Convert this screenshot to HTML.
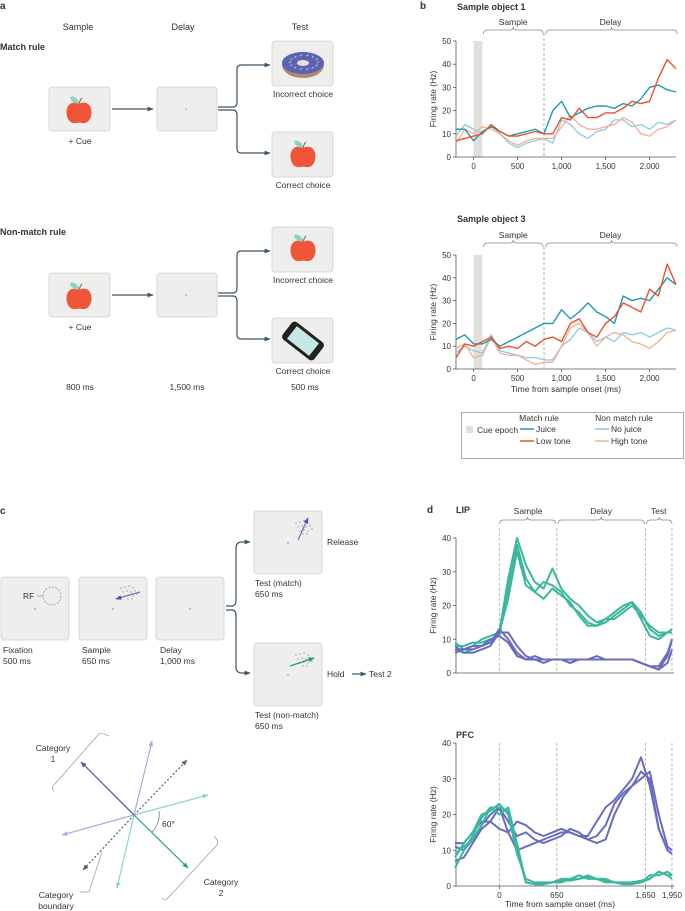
<!DOCTYPE html>
<html><head><meta charset="utf-8"><style>
html,body{margin:0;padding:0;background:#fff;}
svg{display:block;font-family:"Liberation Sans",sans-serif;}
text{fill:#333;}
</style></head><body>
<svg id="fig" width="685" height="911" viewBox="0 0 685 911" xmlns="http://www.w3.org/2000/svg">
<defs>
<marker id="ah" viewBox="0 0 10 10" refX="9" refY="5" markerWidth="5" markerHeight="5" orient="auto"><path d="M0,1 L10,5 L0,9 Z" fill="#3d5566"/></marker>
<marker id="ahB" viewBox="0 0 10 10" refX="9" refY="5" markerWidth="5" markerHeight="5" orient="auto"><path d="M0,1 L10,5 L0,9 Z" fill="#4a55a8"/></marker>
<marker id="ahT" viewBox="0 0 10 10" refX="9" refY="5" markerWidth="5" markerHeight="5" orient="auto"><path d="M0,1 L10,5 L0,9 Z" fill="#14a08a"/></marker>
<marker id="ahLP" viewBox="0 0 10 10" refX="9" refY="5" markerWidth="5" markerHeight="5" orient="auto"><path d="M0,1 L10,5 L0,9 Z" fill="#a9acdc"/></marker>
<marker id="ahLT" viewBox="0 0 10 10" refX="9" refY="5" markerWidth="5" markerHeight="5" orient="auto"><path d="M0,1 L10,5 L0,9 Z" fill="#8fd6c6"/></marker>
<marker id="ahG" viewBox="0 0 10 10" refX="9" refY="5" markerWidth="5" markerHeight="5" orient="auto"><path d="M0,1 L10,5 L0,9 Z" fill="#4d6272"/></marker>
</defs>

<g>
<text x="0" y="9" font-size="10" font-weight="bold" fill="#222">a</text>
<text x="78" y="30" font-size="9" text-anchor="middle">Sample</text>
<text x="183" y="30" font-size="9" text-anchor="middle">Delay</text>
<text x="300" y="30" font-size="9" text-anchor="middle">Test</text>
<text x="0" y="50" font-size="9" font-weight="bold" fill="#222">Match rule</text>
<text x="0" y="235" font-size="9" font-weight="bold" fill="#222">Non-match rule</text>
<g id="pa"></g>
<text x="80" y="390" font-size="8.5" text-anchor="middle">800 ms</text>
<text x="187" y="390" font-size="8.5" text-anchor="middle">1,500 ms</text>
<text x="305" y="390" font-size="8.5" text-anchor="middle">500 ms</text>
</g>

<g>
<text x="0" y="514" font-size="10" font-weight="bold" fill="#222">c</text>
<g id="pc"></g>
</g>

<text x="420" y="9" font-size="10" font-weight="bold" fill="#222">b</text>
<g id="charts"></g>
</svg>
<script>
const bTimes = [-200,-100,0,100,200,300,400,500,600,700,800,900,1000,1100,1200,1300,1400,1500,1600,1700,1800,1900,2000,2100,2200,2300];
const obj1Juice   = [12,12,7,11,13,11,9,10,11,12,10,20,24,17,19,21,22,22,21,23,22,25,30,31,29,28];
const obj1LowTone = [7,8,9,10,14,11,9,9,10,11,10,10,17,16,21,17,17,19,19,21,24,23,24,34,42,38];
const obj1NoJuice = [9,14,12,10,14,10,6,4,6,7,8,6,16,14,10,8,11,12,16,16,13,14,12,15,14,16];
const obj1HighTone= [6,12,10,13,12,10,7,5,7,8,8,8,13,18,14,12,12,13,14,17,15,10,9,12,13,16];
const obj3Juice   = [13,15,11,11,13,10,12,14,16,18,20,20,26,22,25,29,25,23,20,32,30,31,30,35,40,37];
const obj3LowTone = [5,11,10,12,14,9,10,9,12,10,13,14,12,20,22,16,14,20,23,29,27,25,35,32,46,37];
const obj3NoJuice = [7,10,8,7,15,8,7,6,5,5,4,4,10,13,18,16,12,14,12,16,15,16,14,16,18,17];
const obj3HighTone= [9,11,5,6,14,7,6,6,4,2,3,3,10,18,20,16,10,14,16,15,12,11,9,12,16,17];
const bXTicks = [0,500,1000,1500,2000];
const bXTickLabels = ["0","500","1,000","1,500","2,000"];
const bYTicks = [0,10,20,30,40,50];

const dTimes = [-500,-400,-300,-200,-100,0,100,200,300,400,500,600,700,800,900,1000,1100,1200,1300,1400,1500,1600,1700,1800,1900,1950];
const lipTeal1 = [9,7,8,10,11,12,28,40,32,27,25,31,25,22,20,17,15,16,18,20,21,18,13,11,12,13];
const lipTeal2 = [8,8,9,9,10,11,25,38,28,24,27,26,24,20,18,15,14,16,16,18,20,17,14,12,12,12];
const lipTeal3 = [7,6,7,8,9,12,22,36,26,24,22,25,23,21,17,14,14,15,17,19,21,16,11,10,12,12];
const lipPurple1 = [7,7,7,8,9,13,10,6,4,5,4,4,4,4,4,4,4,4,4,4,4,3,2,1,5,10];
const lipPurple2 = [6,7,8,8,10,11,9,5,4,4,4,4,4,3,4,4,5,4,4,4,4,3,2,1,3,7];
const lipPurple3 = [8,6,6,7,8,12,12,8,5,4,3,4,4,3,4,4,4,4,4,4,4,3,2,2,6,10];
const pfcTeal1 = [5,10,14,19,22,20,22,12,1,0.5,0.5,1,1.5,1.5,2,2.5,2,1.5,1,1,1,1.5,2,4,3,3];
const pfcTeal2 = [8,12,15,20,21,23,20,9,2,1,1,1,1,2,2,3,2,2,1,0.5,1,1,2,4,3,2];
const pfcTeal3 = [9,11,13,17,22,22,21,10,1,0.5,0.5,1,2,2,3,2,2,1,1,0.5,0.5,1,3,3,4,3];
const pfcPurple1 = [12,12,15,18,18,16,15,18,17,15,14,15,16,15,14,14,18,22,24,27,30,36,28,16,10,9];
const pfcPurple2 = [11,10,13,17,20,22,15,10,11,12,13,14,15,15,14,13,12,13,20,25,28,32,30,16,10,9];
const pfcPurple3 = [7,8,12,16,18,22,18,14,15,13,12,13,14,16,15,13,14,17,23,26,28,30,32,20,11,10];
const dXTicks = [0,650,1650,1950];
const dXTickLabels = ["0","650","1,650","1,950"];
const dYTicks = [0,10,20,30,40];

const NS = "http://www.w3.org/2000/svg";
function mk(tag, attrs, parent){
  const e = document.createElementNS(NS, tag);
  for (const k in attrs) e.setAttribute(k, attrs[k]);
  parent.appendChild(e);
  return e;
}
function txt(parent, x, y, s, size, anchor, extra){
  const t = mk("text", Object.assign({x:x, y:y, "font-size":size, "text-anchor":anchor||"start"}, extra||{}), parent);
  t.textContent = s;
  return t;
}
function bracket(parent, x1, x2, y){
  const m = (x1+x2)/2;
  const p = mk("path", {d:`M${x1},${y+4} Q${x1},${y} ${x1+4},${y} L${m-3},${y} Q${m},${y} ${m},${y-3} Q${m},${y} ${m+3},${y} L${x2-4},${y} Q${x2},${y} ${x2},${y+4}`, fill:"none", stroke:"#888", "stroke-width":0.8}, parent);
  
  
}

const charts = document.getElementById("charts");

function axes(g, cfg){
  const sx = v => cfg.x0 + (v - cfg.t0) * (cfg.x1 - cfg.x0) / (cfg.t1 - cfg.t0);
  const sy = v => cfg.y0 - v * (cfg.y0 - cfg.yTop) / cfg.vmax;
  const ax = mk("path", {d:`M${cfg.x0},${cfg.yTop} L${cfg.x0},${cfg.y0} L${cfg.x1},${cfg.y0}`, fill:"none", stroke:"#555", "stroke-width":0.8}, g);
  
  
  cfg.yTicks.forEach(v=>{
    mk("line", {x1:cfg.x0-3, x2:cfg.x0, y1:sy(v), y2:sy(v), stroke:"#555","stroke-width":0.8}, g);
    const t = txt(g, cfg.x0-5, sy(v)+3, String(v), 8, "end", {fill:"#444"});
    
    
  });
  cfg.xTicks.forEach((v,i)=>{
    mk("line", {x1:sx(v), x2:sx(v), y1:cfg.y0, y2:cfg.y0+3, stroke:"#555","stroke-width":0.8}, g);
    const t = txt(g, sx(v), cfg.y0+12, cfg.xLabels[i], 8, "middle", {fill:"#444"});
    
    
  });
  const yl = txt(g, 0, 0, "Firing rate (Hz)", 8.5, "middle", {transform:`translate(${cfg.x0-20},${(cfg.y0+cfg.yTop)/2}) rotate(-90)`, fill:"#444"});
  
  
  return {sx, sy};
}
function series(g, times, vals, sx, sy, color, w, name){
  const d = times.map((t,i)=>(i?"L":"M")+sx(t).toFixed(1)+","+sy(vals[i]).toFixed(1)).join(" ");
  const p = mk("path", {d:d, fill:"none", stroke:color, "stroke-width":w, "stroke-linejoin":"round"}, g);
  
  
}

const C_J="#1a9bb0", C_L="#ee4f2f", C_N="#86cde0", C_H="#f7ad92";
function panelB(yOff0, yTop, title, titleY, bracketY, d4, nm, xlabel){
  const g = mk("g", {}, charts);
  
  
  const cfg = {x0:456, x1:676, t0:-200, t1:2300, y0:yOff0, yTop:yTop, vmax:50, yTicks:bYTicks, xTicks:bXTicks, xLabels:bXTickLabels};
  const sx = v => cfg.x0 + (v - cfg.t0) * (cfg.x1 - cfg.x0) / (cfg.t1 - cfg.t0);
  const cue = mk("rect", {x:sx(0), y:yTop, width:sx(100)-sx(0), height:yOff0-yTop, fill:"#e0e0dc"}, g);
  
  
  const dl = mk("line", {x1:sx(800), x2:sx(800), y1:yTop-8, y2:yOff0, stroke:"#999", "stroke-dasharray":"3,2", "stroke-width":0.8}, g);
  
  
  const s = axes(g, cfg);
  const tt = txt(g, 457, titleY, title, 9, "start", {"font-weight":"bold", fill:"#222"});
  
  
  bracket(g, sx(100)+1, sx(800)-1, bracketY);
  bracket(g, sx(800)+2, 677, bracketY);
  txt(g, (sx(100)+sx(800))/2, bracketY-5, "Sample", 8.5, "middle", {fill:"#444"});
  txt(g, (sx(800)+677)/2, bracketY-5, "Delay", 8.5, "middle", {fill:"#444"});
  series(g, bTimes, d4[2], s.sx, s.sy, C_N, 1.3, "line-no-juice");
  series(g, bTimes, d4[3], s.sx, s.sy, C_H, 1.3, "line-high-tone");
  series(g, bTimes, d4[0], s.sx, s.sy, C_J, 1.4, "line-juice");
  series(g, bTimes, d4[1], s.sx, s.sy, C_L, 1.4, "line-low-tone");
  if (xlabel){ const xl = txt(g, 566, yOff0+23, "Time from sample onset (ms)", 8.5, "middle", {fill:"#444"});
    
     }
}
panelB(157, 41, "Sample object 1", 10, 30, [obj1Juice,obj1LowTone,obj1NoJuice,obj1HighTone], "chart-sample-object-1", false);
panelB(369, 255, "Sample object 3", 222, 243, [obj3Juice,obj3LowTone,obj3NoJuice,obj3HighTone], "chart-sample-object-3", true);

(function(){
  const g = mk("g", {}, charts);
  
  
  mk("rect", {x:461.5, y:412.5, width:222, height:46, fill:"none", stroke:"#999", "stroke-width":0.8}, g);
  mk("rect", {x:466, y:426, width:7, height:7, fill:"#e0e0dc"}, g);
  txt(g, 477, 433, "Cue epoch", 8.5, "start", {fill:"#444"});
  txt(g, 539, 421, "Match rule", 8.5, "middle", {fill:"#444"});
  txt(g, 624, 421, "Non match rule", 8.5, "middle", {fill:"#444"});
  const items = [[520,432,C_J,"Juice"],[520,444,C_L,"Low tone"],[595,432,C_N,"No juice"],[595,444,C_H,"High tone"]];
  items.forEach(it=>{
    const l = mk("line", {x1:it[0], x2:it[0]+14, y1:it[1]-3, y2:it[1]-3, stroke:it[2], "stroke-width":1.5}, g);
    
    
    txt(g, it[0]+16, it[1], it[3], 8.5, "start", {fill:"#444"});
  });
})();

const T_C="#3ab79d", P_C="#6a6cc0";
function panelD(y0, yTop, nm, title, titleY, showBrackets, xlabel){
  const g = mk("g", {}, charts);
  
  
  const cfg = {x0:456, x1:674, t0:-489, t1:1973, y0:y0, yTop:yTop, vmax:40, yTicks:dYTicks, xTicks: xlabel?dXTicks:[], xLabels:dXTickLabels};
  const sx = v => cfg.x0 + (v - cfg.t0) * (cfg.x1 - cfg.x0) / (cfg.t1 - cfg.t0);
  dXTicks.forEach(v=>{
    const l = mk("line", {x1:sx(v), x2:sx(v), y1:showBrackets?yTop-10:yTop, y2:y0, stroke:"#aaa","stroke-dasharray":"3,2","stroke-width":0.8}, g);
    
    
  });
  const s = axes(g, cfg);
  const tt = txt(g, 456, titleY, title, 9, "start", {"font-weight":"bold", fill:"#222"});
  
  
  if (showBrackets){
    const by = 520;
    bracket(g, sx(0), sx(650)-1, by); bracket(g, sx(650)+1, sx(1650)-1, by); bracket(g, sx(1650)+1, sx(1950), by);
    txt(g, (sx(0)+sx(650))/2, by-6, "Sample", 8.5, "middle", {fill:"#444"});
    txt(g, (sx(650)+sx(1650))/2, by-6, "Delay", 8.5, "middle", {fill:"#444"});
    txt(g, (sx(1650)+sx(1950))/2, by-6, "Test", 8.5, "middle", {fill:"#444"});
  }
  if (xlabel){ const xl = txt(g, 560, y0+21, "Time from sample onset (ms)", 8.5, "middle", {fill:"#444"});
    
     }
  return s;
}
(function(){
  const s = panelD(673, 538, "chart-lip", "LIP", 513, true, false);
  const g = charts.lastChild;
  [lipTeal1,lipTeal2,lipTeal3].forEach(a=>series(g, dTimes, a, s.sx, s.sy, T_C, 2, "line-lip-teal"));
  [lipPurple1,lipPurple2,lipPurple3].forEach(a=>series(g, dTimes, a, s.sx, s.sy, P_C, 2, "line-lip-purple"));
  const s2 = panelD(886, 743, "chart-pfc", "PFC", 738, false, true);
  const g2 = charts.lastChild;
  [pfcPurple1,pfcPurple2,pfcPurple3].forEach(a=>series(g2, dTimes, a, s2.sx, s2.sy, P_C, 2, "line-pfc-purple"));
  [pfcTeal1,pfcTeal2,pfcTeal3].forEach(a=>series(g2, dTimes, a, s2.sx, s2.sy, T_C, 2, "line-pfc-teal"));
  const dl = txt(charts, 427, 513, "d", 10, "start", {"font-weight":"bold", fill:"#222"});
  
  
})();

const pa = document.getElementById("pa");
function box(parent, x, y, w, h, name){
  const r = mk("rect", {x:x, y:y, width:w, height:h, rx:3, fill:"#eeeeec", stroke:"#cfcfcb", "stroke-width":0.8}, parent);
  
  
  return r;
}
function apple(parent, cx, cy){
  const g = mk("g", {}, parent);
  
  
  mk("path", {d:`M${cx},${cy-7} C${cx+7},${cy-11} ${cx+13},${cy-6} ${cx+12.5},${cy+2} C${cx+12},${cy+10} ${cx+7},${cy+13} ${cx+3},${cy+12} C${cx+1},${cy+11.5} ${cx-1},${cy+11.5} ${cx-3},${cy+12} C${cx-7},${cy+13} ${cx-12},${cy+10} ${cx-12.5},${cy+2} C${cx-13},${cy-6} ${cx-7},${cy-11} ${cx},${cy-7} Z`, fill:"#f05538"}, g);
  mk("path", {d:`M${cx},${cy-7} Q${cx+1},${cy-11} ${cx+3},${cy-13}`, stroke:"#8a5a3a", "stroke-width":1, fill:"none"}, g);
  mk("ellipse", {cx:cx-4.5, cy:cy-11, rx:5, ry:2.5, fill:"#8fd0c0", transform:`rotate(35 ${cx-4.5} ${cy-11})`}, g);
}
function appleA(cx, cy){ apple(pa, cx, cy); }
function arrowPath(parent, d, name, marker){
  const p = mk("path", {d:d, fill:"none", stroke:"#3d5566", "stroke-width":1.2, "marker-end":`url(#${marker||"ah"})`}, parent);
  
  
}
function trial(yOff, top, bottom){
  box(pa, 49, 87+yOff, 61, 44, "sample-box");
  apple(pa, 79, 111+yOff);
  txt(pa, 80, 144+yOff, "+ Cue", 8.5, "middle", {fill:"#444"});
  box(pa, 157, 87+yOff, 60, 44, "delay-box");
  mk("circle", {cx:186, cy:109+yOff, r:0.8, fill:"#999"}, pa);
  arrowPath(pa, `M112,${109+yOff} L153,${109+yOff}`, "sample-to-delay-arrow");
  arrowPath(pa, `M218,${107+yOff} L233,${107+yOff} Q237,${107+yOff} 237,${102+yOff} L237,${69+yOff} Q237,${65+yOff} 241,${65+yOff} L270,${65+yOff}`, "branch-arrow-up");
  arrowPath(pa, `M218,${110+yOff} L233,${110+yOff} Q237,${110+yOff} 237,${115+yOff} L237,${149+yOff} Q237,${153+yOff} 241,${153+yOff} L270,${153+yOff}`, "branch-arrow-down");
  box(pa, 272, 41+yOff, 61, 45, "test-box-top");
  box(pa, 272, 132+yOff, 61, 45, "test-box-bottom");
  top(303, 63+yOff); bottom(303, 155+yOff);
  txt(pa, 303, 97+yOff, "Incorrect choice", 8.5, "middle", {fill:"#444"});
  txt(pa, 303, 188+yOff, "Correct choice", 8.5, "middle", {fill:"#444"});
}
function donut(cx, cy){
  const g = mk("g", {}, pa);
  
  
  mk("ellipse", {cx:cx, cy:cy+2, rx:21, ry:13, fill:"#b08a70"}, g);
  mk("ellipse", {cx:cx, cy:cy, rx:21, ry:11, fill:"#5b62b8"}, g);
  mk("ellipse", {cx:cx, cy:cy, rx:6, ry:3, fill:"#e8e0d8"}, g);
  for (let i=0;i<14;i++){ const a=i*0.45; mk("line", {x1:cx+Math.cos(a)*14, y1:cy+Math.sin(a)*7, x2:cx+Math.cos(a)*14+2, y2:cy+Math.sin(a)*7-1.5, stroke:i%2?"#e8d070":"#9ed8a0","stroke-width":1}, g); }
}
function phone(cx, cy){
  const g = mk("g", {transform:`rotate(38 ${cx} ${cy})`}, pa);
  
  
  mk("rect", {x:cx-20, y:cy-11, width:40, height:22, rx:4, fill:"#222"}, g);
  mk("rect", {x:cx-14, y:cy-8, width:28, height:16, fill:"#c6e8e4"}, g);
}
trial(0, donut, appleA);
trial(186, appleA, phone);

const pc = document.getElementById("pc");
function cbox(x, y, name){ return box(pc, x, y, 68, 63, name); }
function dot(x, y){ mk("circle", {cx:x, cy:y, r:0.9, fill:"#999"}, pc); }
function dotsCloud(cx, cy){ const off=[[-8,-5],[-4,-6],[0,-7],[4,-5],[-6,-1],[-2,-2],[2,-1],[6,-2],[-4,3],[0,2],[4,3],[8,1],[-1,6],[3,6]]; off.forEach(o=>mk("circle",{cx:cx+o[0],cy:cy+o[1],r:0.7,fill:"#999"},pc)); }
cbox(1, 577, "fixation-box"); dot(35, 609);
const rf = mk("circle", {cx:52, cy:596, r:9, fill:"none", stroke:"#888", "stroke-dasharray":"2,1.5", "stroke-width":0.7}, pc);


mk("line", {x1:37, x2:43, y1:596, y2:596, stroke:"#888","stroke-width":0.7}, pc);
txt(pc, 23, 599, "RF", 8.5, "start", {fill:"#444"});
cbox(79, 577, "sample-box"); dot(113, 609); dotsCloud(129, 593);
mk("line", {x1:140, y1:592, x2:116, y2:599, stroke:"#6c70c4", "stroke-width":1.2, "marker-end":"url(#ahB)"}, pc);
cbox(156, 577, "delay-box"); dot(190, 609);
cbox(254, 511, "test-match-box"); dot(288, 543); dotsCloud(304, 528);
mk("line", {x1:298, y1:540, x2:308, y2:518, stroke:"#6c70c4", "stroke-width":1.2, "marker-end":"url(#ahB)"}, pc);
cbox(254, 643, "test-nonmatch-box"); dot(288, 675); dotsCloud(304, 660);
mk("line", {x1:290, y1:666, x2:314, y2:658, stroke:"#14a08a", "stroke-width":1.2, "marker-end":"url(#ahT)"}, pc);
arrowPath(pc, "M226,606 L232,606 Q236,606 236,600 L236,548 Q236,542 242,542 L250,542", "branch-arrow-up");
arrowPath(pc, "M226,610 L232,610 Q236,610 236,616 L236,667 Q236,673 242,673 L250,673", "branch-arrow-down");
txt(pc, 3, 653, "Fixation", 8.5, "start", {fill:"#444"}); txt(pc, 3, 664, "500 ms", 8.5, "start", {fill:"#444"});
txt(pc, 82, 653, "Sample", 8.5, "start", {fill:"#444"}); txt(pc, 82, 664, "650 ms", 8.5, "start", {fill:"#444"});
txt(pc, 160, 653, "Delay", 8.5, "start", {fill:"#444"}); txt(pc, 160, 664, "1,000 ms", 8.5, "start", {fill:"#444"});
txt(pc, 255, 586, "Test (match)", 8.5, "start", {fill:"#444"}); txt(pc, 255, 597, "650 ms", 8.5, "start", {fill:"#444"});
txt(pc, 255, 718, "Test (non-match)", 8.5, "start", {fill:"#444"}); txt(pc, 255, 729, "650 ms", 8.5, "start", {fill:"#444"});
txt(pc, 327, 545, "Release", 8.5, "start", {fill:"#444"});
txt(pc, 327, 677, "Hold", 8.5, "start", {fill:"#444"});
mk("line", {x1:352, x2:366, y1:674, y2:674, stroke:"#3d5566", "stroke-width":1.2, "marker-end":"url(#ah)"}, pc);
txt(pc, 369, 677, "Test 2", 8.5, "start", {fill:"#444"});
const cx0=134, cy0=815;
function carrow(x2,y2,color,marker,name,dash){
  const l = mk("line", {x1:cx0, y1:cy0, x2:x2, y2:y2, stroke:color, "stroke-width":1.2, "marker-end":`url(#${marker})`}, pc);
  if (dash) l.setAttribute("stroke-dasharray", "2,2");
  
  
}
carrow(187,760,"#4d6272","ahG","boundary-arrow",true);
carrow(83,870,"#4d6272","ahG","boundary-arrow",true);
carrow(152,741,"#a9acdc","ahLP","direction-arrow",false);
carrow(62,835,"#a9acdc","ahLP","direction-arrow",false);
carrow(208,795,"#8fd6c6","ahLT","direction-arrow",false);
carrow(117,888,"#8fd6c6","ahLT","direction-arrow",false);
carrow(81,762,"#4a55a8","ahB","category-1-arrow",false);
carrow(188,868,"#14a08a","ahT","category-2-arrow",false);
mk("path", {d:"M159,811 A25,25 0 0 1 152,832", fill:"none", stroke:"#666","stroke-width":0.7}, pc);
txt(pc, 162, 827, "60°", 8.5, "start", {fill:"#444"});
mk("path", {d:"M54,791 Q51,788 54,785 L98,735 Q101,732 104,734 L109,736", fill:"none", stroke:"#999","stroke-width":0.7}, pc);
mk("path", {d:"M162,898 Q165,901 168,898 L216,846 Q219,843 217,840 L214,836", fill:"none", stroke:"#999","stroke-width":0.7}, pc);
txt(pc, 53, 751, "Category", 8.5, "middle", {fill:"#444"}); txt(pc, 53, 762, "1", 8.5, "middle", {fill:"#444"});
txt(pc, 221, 885, "Category", 8.5, "middle", {fill:"#444"}); txt(pc, 221, 896, "2", 8.5, "middle", {fill:"#444"});
mk("path", {d:"M102,852 L89,892 L80,892", fill:"none", stroke:"#999","stroke-width":0.7}, pc);
txt(pc, 56, 898, "Category", 8.5, "middle", {fill:"#444"}); txt(pc, 56, 909, "boundary", 8.5, "middle", {fill:"#444"});
</script>
</body></html>
